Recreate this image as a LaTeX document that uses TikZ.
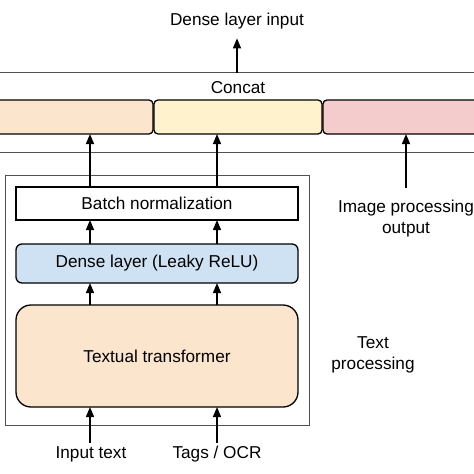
\documentclass[tikz,border=0pt]{standalone}
\usepackage{fontspec}
\setmainfont{Liberation Sans}
\usetikzlibrary{arrows.meta,positioning,fit}
\definecolor{peach}{HTML}{FCE5CD}
\definecolor{lemon}{HTML}{FFF2CC}
\definecolor{rose}{HTML}{F4CCCC}
\definecolor{skyblue}{HTML}{CFE2F3}
\definecolor{rule}{HTML}{505050}

\begin{document}
\begin{tikzpicture}[x=1pt,y=-1pt,
    font=\fontsize{17.2}{21}\selectfont,
    every node/.style={outer sep=0pt},
    arr/.style={-{Triangle[width=8pt,length=10pt]},line width=1.3pt},
    layer/.style={draw,line width=1.3pt,minimum width=282pt,inner sep=0pt},
    cell/.style={draw,line width=1.3pt,rounded corners=4pt,minimum height=34pt,inner sep=0pt}]
  \useasboundingbox (0,0) rectangle (474,474);
  \clip (0,0) rectangle (474,474);

  % concat block
  \draw[rule,line width=1.5pt] (-5,72.5) -- (480,72.5);
  \draw[rule,line width=1pt] (-5,152.3) -- (480,152.3);
  \coordinate (ctop) at (237,72.5);
  \node (concat) at (238,88) {Concat};
  \node[cell,fill=peach,minimum width=173pt] (txtcell) at (66.5,117) {};
  \node[cell,fill=lemon,minimum width=168pt,right=1pt of txtcell] (tagcell) {};
  \node[cell,fill=rose,minimum width=177pt,right=1pt of tagcell] (imgcell) {};
  \node (out) at (237,21) {Dense layer input};
  \draw[arr,shorten >=6pt] (ctop) -- (out.south);

  % text processing
  \coordinate (c1) at (90,0);
  \coordinate (c2) at (217,0);
  \node[layer,minimum height=33pt] (bn) at (157,203.5) {Batch normalization};
  \node[layer,fill=skyblue,rounded corners=6pt,minimum height=39pt,below=24pt of bn] (dl) {Dense layer (Leaky ReLU)};
  \node[layer,fill=peach,rounded corners=15pt,minimum height=102pt,below=22pt of dl] (tt) {Textual transformer};
  \node[draw=rule,line width=0.9pt,fit={(5,175) (309,425)},inner sep=0pt] (frame) {};
  \node[align=center] (tp) at (373,355) {Text\\processing};

  \node (in1) at (91,454) {Input text};
  \node (in2) at (217,454) {Tags / OCR};
  \draw[arr] (in1.north -| c1) -- (tt.south -| c1);
  \draw[arr] (in2.north -| c2) -- (tt.south -| c2);
  \draw[arr] (tt.north -| c1) -- (dl.south -| c1);
  \draw[arr] (tt.north -| c2) -- (dl.south -| c2);
  \draw[arr] (dl.north -| c1) -- (bn.south -| c1);
  \draw[arr] (dl.north -| c2) -- (bn.south -| c2);
  \draw[arr] (bn.north -| c1) -- (txtcell.south -| c1);
  \draw[arr] (bn.north -| c2) -- (tagcell.south -| c2);

  % image processing
  \node[align=center,inner ysep=12pt] (img) at (406,219) {Image processing\\output};
  \draw[arr] (img.north) -- (imgcell.south -| img.north);
\end{tikzpicture}
\end{document}
